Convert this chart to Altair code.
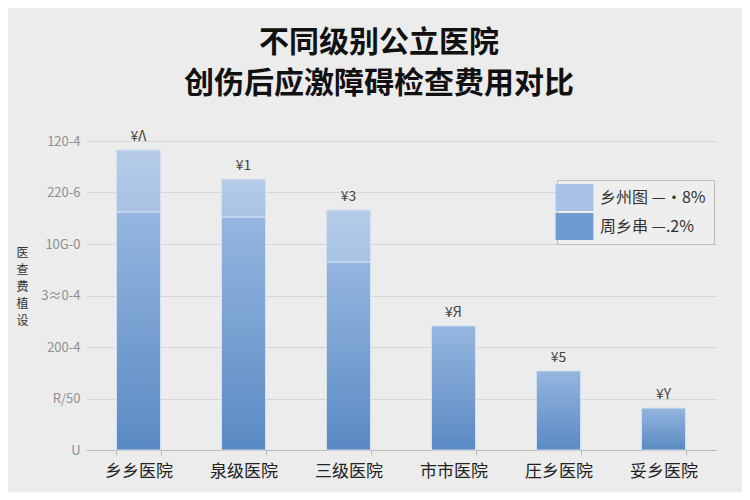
import altair as alt
import pandas as pd

categories = ["乡乡医院", "泉级医院", "三级医院", "市市医院", "圧乡医院", "妥乡医院"]
lower_vals = [92.5, 90.5, 73.0, 48.2, 30.7, 16.3]
total_vals = [116.5, 105.2, 93.2, 48.2, 30.7, 16.3]
bar_labels = ["¥Λ", "¥1", "¥3", "¥Я", "¥5", "¥Y"]
y_tick_values = [0, 20, 40, 60, 80, 100, 120]
y_tick_labels = ["U", "R/50", "200-4", "3≈0-4", "10G-0", "220-6", "120-4"]
legend_labels = ["乡州图  —·8%", "周乡串  —.2%"]
legend_colors = ["#a7c2e4", "#6e9bd1"]
y_title = ["医", "查", "费", "植", "设"]
x_title = "检查费"
title_lines = ["不同级别公立医院", "创伤后应激障碍检查费用对比"]

FONT = "Noto Sans CJK SC"

df = pd.DataFrame({
    "cat": categories,
    "lower": lower_vals,
    "total": total_vals,
    "label": bar_labels,
})
leg_df = pd.DataFrame({"cat": [categories[0]] * 2, "v": [0, 0], "series": legend_labels})

label_expr = "[" + ",".join("'" + s + "'" for s in y_tick_labels) + "][round(datum.value / 20)]"

x_enc = alt.X(
    "cat:N", sort=categories,
    scale=alt.Scale(paddingInner=0.58, paddingOuter=0.29),
    axis=alt.Axis(
        title=x_title, labelAngle=0, labelFontSize=17, labelColor="#222",
        labelFont=FONT, labelPadding=8, tickBand="extent", tickSize=5,
        tickColor="#bbbbbb", domainColor="#bbbbbb", grid=False,
        titleFont=FONT, titleFontSize=13, titleColor="#555",
        titleX=284, titleY=344, titleBaseline="top", titleFontWeight="normal",
    ),
)
y_scale = alt.Scale(domain=[0, 120], nice=False)
y_axis = alt.Axis(
    values=y_tick_values, labelExpr=label_expr, labelFontSize=13,
    labelColor="#8f8f8f", labelFont=FONT, labelPadding=6, ticks=False,
    domain=False, grid=True, gridColor="#d6d6d6",
    title=y_title, titleAngle=0, titleX=-64, titleY=106, titleAlign="center",
    titleBaseline="top", titleFont=FONT, titleFontSize=12, titleColor="#333",
    titleFontWeight="normal", titleLineHeight=17,
)

lower_grad = alt.Gradient(
    gradient="linear", x1=0, x2=0, y1=0, y2=1,
    stops=[alt.GradientStop(color="#95b6df", offset=0),
           alt.GradientStop(color="#5a8ac4", offset=1)],
)
upper_grad = alt.Gradient(
    gradient="linear", x1=0, x2=0, y1=0, y2=1,
    stops=[alt.GradientStop(color="#b6cce8", offset=0),
           alt.GradientStop(color="#a8c2e4", offset=1)],
)

base = alt.Chart(df)

lower = base.mark_bar(color=lower_grad, stroke="#d4e1f2", strokeWidth=1).encode(
    x=x_enc,
    y=alt.Y("lower:Q", scale=y_scale, axis=y_axis),
)
upper = base.transform_filter("datum.total > datum.lower").mark_bar(
    color=upper_grad, stroke="#d4e1f2", strokeWidth=1
).encode(
    x=alt.X("cat:N", sort=categories),
    y=alt.Y("lower:Q"),
    y2="total:Q",
)
texts = base.mark_text(
    baseline="bottom", dy=-6, fontSize=14, color="#444", font=FONT
).encode(
    x=alt.X("cat:N", sort=categories),
    y=alt.Y("total:Q"),
    text="label:N",
)
legend_layer = alt.Chart(leg_df).mark_bar(opacity=0).encode(
    x=alt.X("cat:N", sort=categories),
    y=alt.Y("v:Q"),
    color=alt.Color(
        "series:N", sort=legend_labels,
        scale=alt.Scale(domain=legend_labels, range=legend_colors),
        legend=alt.Legend(
            title=None, orient="none", legendX=471, legendY=39,
            symbolType="M-1.4,-1H1.4V1H-1.4Z", symbolSize=729,
            symbolOpacity=1, symbolStrokeWidth=0,
            labelFont=FONT, labelFontSize=16, labelColor="#333",
            labelOffset=12, fillColor="#eeeeee", strokeColor="#bbbbbb",
            padding=4, rowPadding=2,
        ),
    ),
)

chart = alt.layer(lower, upper, texts, legend_layer).properties(
    width=630, height=309,
    autosize=alt.AutoSizeParams(type="none"),
    padding={"left": 78, "top": 133, "right": 26, "bottom": 42},
    background="#ececec",
    title=alt.Title(
        text=title_lines, fontSize=30, fontWeight="bold", color="#111",
        font=FONT, lineHeight=41, anchor="middle", dx=-22, offset=31,
    ),
).configure_view(strokeWidth=0)

chart.save("out.html", embed_options={"renderer": "svg", "actions": False})
